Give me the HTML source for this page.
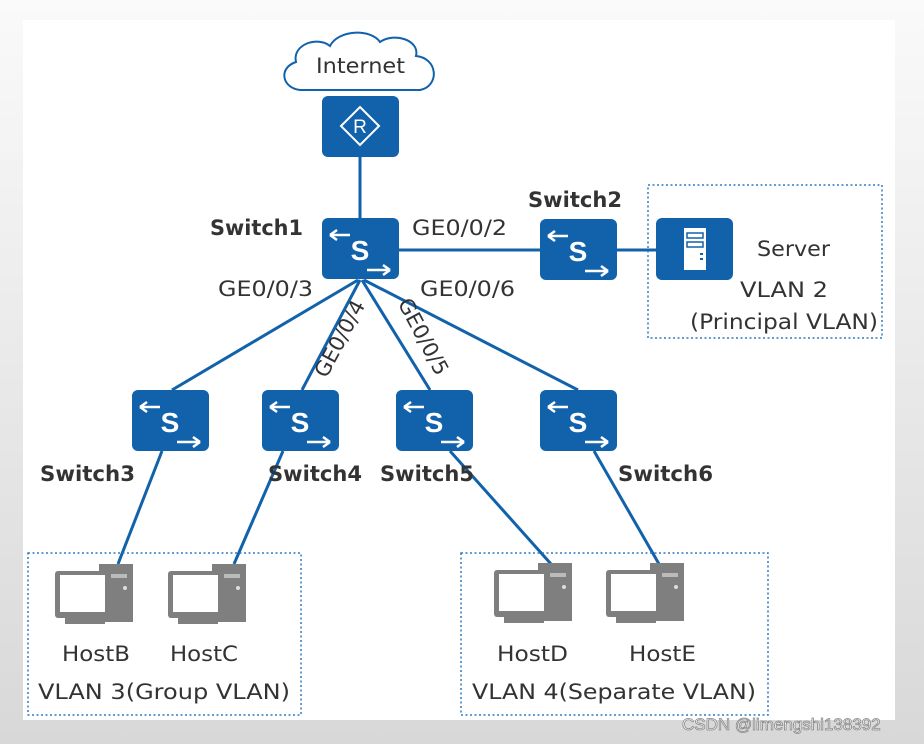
<!DOCTYPE html>
<html><head><meta charset="utf-8"><style>
html,body{margin:0;padding:0}
body{width:924px;height:744px;background:linear-gradient(#fafafa,#d8d8d8);overflow:hidden;position:relative}
svg{position:absolute;left:0;top:0}
text{font-family:"DejaVu Sans","Liberation Sans",sans-serif;fill:#333;font-size:21px}
.b{font-weight:bold}
</style></head><body>
<svg width="924" height="744" viewBox="0 0 924 744">
<defs>
<g id="sw">
<rect x="0" y="0" width="77" height="61" rx="6" fill="#1162ab"/>
<text x="38" y="42" text-anchor="middle" style="fill:#fff;font-size:28px;font-weight:bold;font-family:'Liberation Sans',sans-serif">S</text>
<path d="M8 17 H28 M8 17 l7 -5 M8 17 l7 5" stroke="#fff" stroke-width="2.5" fill="none"/>
<path d="M45 52 H68 M68 52 l-7 -5 M68 52 l-7 5" stroke="#fff" stroke-width="2.5" fill="none"/>
</g>
<g id="pc">
<rect x="0" y="7" width="58" height="47" rx="3" fill="#7f7f7f"/>
<rect x="44" y="0" width="34" height="58" fill="#7f7f7f"/>
<rect x="5" y="11" width="45" height="37" fill="#fff"/>
<rect x="10" y="54" width="40" height="6" fill="#7f7f7f"/>
<rect x="56" y="10" width="16" height="4" fill="#bbb"/>
<circle cx="70" cy="24" r="2" fill="#ddd"/>
</g>
</defs>
<rect x="23" y="20" width="872" height="700" fill="#fff"/>
<g stroke="#1162ab" stroke-width="3" fill="none">
<line x1="360" y1="157" x2="360" y2="218"/>
<line x1="398" y1="250" x2="540" y2="250"/>
<line x1="616" y1="250" x2="656" y2="250"/>
<line x1="358" y1="280" x2="172" y2="390"/>
<line x1="360" y1="280" x2="302" y2="390"/>
<line x1="362" y1="280" x2="430" y2="390"/>
<line x1="364" y1="280" x2="578" y2="390"/>
<line x1="162" y1="451" x2="118" y2="564"/>
<line x1="283" y1="451" x2="234" y2="564"/>
<line x1="450" y1="451" x2="551" y2="564"/>
<line x1="594" y1="451" x2="659" y2="564"/>
</g>
<g stroke="#2e7bc0" stroke-width="1.5" stroke-dasharray="2,2.5" fill="none">
<rect x="648" y="185" width="234" height="153"/>
<rect x="28" y="553" width="273" height="162"/>
<rect x="461" y="553" width="307" height="162"/>
</g>
<path d="M300 90 C282 88 278 68 296 62 C292 44 318 36 330 46 C338 30 370 28 380 42 C394 32 420 40 416 56 C438 58 440 86 420 90 Z" fill="#fff" stroke="#1162ab" stroke-width="2"/>
<text x="316" y="73" textLength="89" lengthAdjust="spacingAndGlyphs">Internet</text>
<rect x="322" y="96" width="77" height="61" rx="6" fill="#1162ab"/>
<path d="M360 107 L379 126 L360 145 L341 126 Z" fill="none" stroke="#fff" stroke-width="2"/>
<text x="360" y="133" text-anchor="middle" style="fill:#fff;font-size:19px;font-family:'Liberation Sans',sans-serif">R</text>
<use href="#sw" x="322" y="218"/>
<use href="#sw" x="540" y="219"/>
<use href="#sw" x="132" y="390"/>
<use href="#sw" x="262" y="390"/>
<use href="#sw" x="396" y="390"/>
<use href="#sw" x="540" y="390"/>
<rect x="656" y="218" width="77" height="62" rx="6" fill="#1162ab"/>
<rect x="684" y="228" width="22" height="42" fill="#fff"/>
<rect x="687" y="233" width="16" height="5" fill="none" stroke="#1162ab" stroke-width="1.5"/>
<rect x="687" y="242" width="16" height="5" fill="none" stroke="#1162ab" stroke-width="1.5"/>
<rect x="700" y="253" width="3" height="2" fill="#1162ab"/>
<rect x="700" y="258" width="3" height="2" fill="#1162ab"/>
<use href="#pc" x="55" y="564"/>
<use href="#pc" x="168" y="564"/>
<use href="#pc" x="494" y="563"/>
<use href="#pc" x="606" y="563"/>
<text x="210" y="235" class="b" textLength="93" lengthAdjust="spacingAndGlyphs">Switch1</text>
<text x="528" y="207" class="b" textLength="94" lengthAdjust="spacingAndGlyphs">Switch2</text>
<text x="40" y="481" class="b" textLength="95" lengthAdjust="spacingAndGlyphs">Switch3</text>
<text x="268" y="481" class="b" textLength="94" lengthAdjust="spacingAndGlyphs">Switch4</text>
<text x="380" y="481" class="b" textLength="94" lengthAdjust="spacingAndGlyphs">Switch5</text>
<text x="618" y="481" class="b" textLength="95" lengthAdjust="spacingAndGlyphs">Switch6</text>
<text x="412" y="235" textLength="95" lengthAdjust="spacingAndGlyphs">GE0/0/2</text>
<text x="218" y="296" textLength="95" lengthAdjust="spacingAndGlyphs">GE0/0/3</text>
<text x="420" y="296" textLength="95" lengthAdjust="spacingAndGlyphs">GE0/0/6</text>
<text transform="translate(346,342) rotate(-62)" text-anchor="middle">GE0/0/4</text>
<text transform="translate(417,340) rotate(62)" text-anchor="middle">GE0/0/5</text>
<text x="757" y="256" textLength="73" lengthAdjust="spacingAndGlyphs">Server</text>
<text x="740" y="297" textLength="88" lengthAdjust="spacingAndGlyphs">VLAN 2</text>
<text x="690" y="329" textLength="188" lengthAdjust="spacingAndGlyphs">(Principal VLAN)</text>
<text x="62" y="661" textLength="68" lengthAdjust="spacingAndGlyphs">HostB</text>
<text x="170" y="661" textLength="68" lengthAdjust="spacingAndGlyphs">HostC</text>
<text x="497" y="661" textLength="71" lengthAdjust="spacingAndGlyphs">HostD</text>
<text x="629" y="661" textLength="67" lengthAdjust="spacingAndGlyphs">HostE</text>
<text x="38" y="699" textLength="252" lengthAdjust="spacingAndGlyphs">VLAN 3(Group VLAN)</text>
<text x="472" y="699" textLength="284" lengthAdjust="spacingAndGlyphs">VLAN 4(Separate VLAN)</text>
<text x="682" y="730" style="fill:#fff;stroke:#888;stroke-width:0.8;font-size:17px;font-family:'Liberation Sans',sans-serif">CSDN @limengshi138392</text>
</svg>
</body></html>
